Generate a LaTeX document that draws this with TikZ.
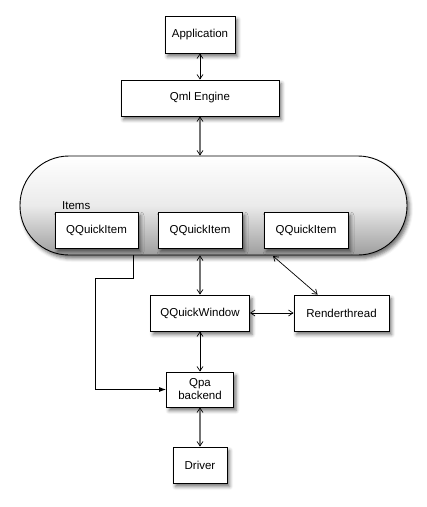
\documentclass[tikz,border=0pt]{standalone}
\usepackage{fontspec}
\setmainfont{Liberation Sans}
\usetikzlibrary{arrows.meta,shadows.blur}
\begin{document}
\begin{tikzpicture}[x=1pt,y=-1pt,
  shad/.style={blur shadow={shadow xshift=2.5pt, shadow yshift=-3.5pt, shadow blur radius=3.5pt, shadow opacity=55}},
  box/.style={draw=black, line width=0.8pt, fill=white, shad, inner sep=0pt, align=center,
    font=\fontsize{11.5}{13}\selectfont},
  biarrow/.style={{Straight Barb[length=4.5pt,width=6pt,line width=0.7pt,color=black]}-{Straight Barb[length=4.5pt,width=6pt,line width=0.7pt,color=black]}, line width=0.7pt},
  grayarrow/.style={biarrow, draw=black!55, line width=1.3pt},
]
\useasboundingbox (0,0) rectangle (427,507);
% big container
\node[draw=black, line width=0.9pt, rounded corners=49pt, minimum width=387pt, minimum height=99pt,
  top color=white, bottom color=black!38, middle color=black!8, shad] (big) at (213.5,205.5) {};
\node[anchor=base west, font=\fontsize{11.5}{13}\selectfont, inner sep=0pt] (itemslbl) at (62,209) {Items};
% boxes
\node[box, minimum width=70pt, minimum height=37pt] (app) at (200,34.5) {Application};
\node[box, minimum width=158pt, minimum height=36pt] (qml) at (200,98) {Qml Engine};
\node[box, minimum width=83pt, minimum height=36pt] (item1) at (96.5,230) {QQuickItem};
\node[box, minimum width=84pt, minimum height=36pt] (item2) at (200,230) {QQuickItem};
\node[box, minimum width=84pt, minimum height=36pt] (item3) at (306,230) {QQuickItem};
\node[box, minimum width=99pt, minimum height=36pt] (qw) at (200,313) {QQuickWindow};
\node[box, minimum width=95pt, minimum height=36pt] (rt) at (341.5,313) {Renderthread};
\node[box, minimum width=67pt, minimum height=35pt] (qpa) at (200,389.5) {Qpa\\backend};
\node[box, minimum width=54pt, minimum height=36pt] (drv) at (200,465) {Driver};
% connectors
\draw[biarrow] (app.south) -- (qml.north);
\draw[grayarrow] (qml.south) -- (big.north -| qml.south);
\draw[grayarrow] (big.south -| qw.north) -- (qw.north);
\draw[biarrow] (qw.east) -- (rt.west);
\draw[biarrow] (qw.south) -- (qpa.north);
\draw[grayarrow] (qpa.south) -- (drv.north);
\coordinate (rtend) at (273,256);
\draw[biarrow] ([xshift=24pt]rt.north west) -- (rtend);
\coordinate (e1) at (133,278);
\path (qpa.west) ++(-71,0) coordinate (e2);
\draw[line width=0.8pt, -{Latex[length=7pt,width=5pt]}] (big.south -| e1) -- (e1) -| (e2) -- (qpa.west);
\end{tikzpicture}
\end{document}
